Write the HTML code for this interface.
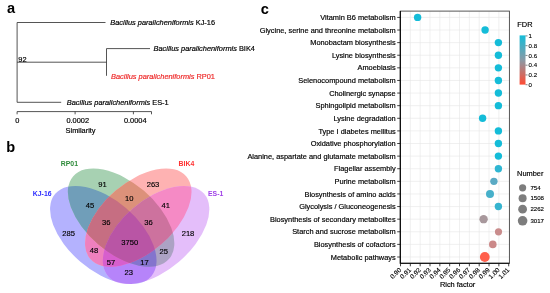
<!DOCTYPE html>
<html><head><meta charset="utf-8"><title>Figure</title>
<style>
html,body{margin:0;padding:0;background:#fff;}
body{width:550px;height:293px;overflow:hidden;}
svg{display:block;font-family:"Liberation Sans",Arial,Helvetica,sans-serif;}
.t{font-size:7.4px;fill:#000;stroke:#000;stroke-width:0.18px;}
.s{font-size:6.5px;fill:#000;stroke:#000;stroke-width:0.12px;}
.b{font-size:14.6px;font-weight:bold;fill:#000;}
.s2{font-size:6.1px;fill:#000;stroke:#000;stroke-width:0.12px;}
.n{font-size:7.6px;fill:#000;text-anchor:middle;stroke:#000;stroke-width:0.15px;}
.l{font-size:6.9px;font-weight:bold;}
.tr{stroke:#2a2a2a;stroke-width:0.8;fill:none;}
.g{stroke:#e6e6e6;stroke-width:0.6;fill:none;}
</style></head><body>
<svg width="550" height="293" viewBox="0 0 550 293">
<rect x="0" y="0" width="550" height="293" fill="#fff"/>
<g id="panel-a">
<text class="b" x="7" y="13.4">a</text>
<path class="tr" d="M17.1 22.5V102.3M17.1 22.5H105.5M17.1 62.2H106.5M106.5 48.6V75.8M106.5 48.6H150M17.1 102.3H61.2"/>
<path class="tr" d="M17.1 114.3V111.6H151.5V114.3M75.1 111.6V114.3M133.4 111.6V114.3"/>
<text class="t" x="110.3" y="25.1"><tspan font-style="italic">Bacillus paralicheniformis</tspan> KJ-16</text>
<text class="t" x="153.5" y="51.2"><tspan font-style="italic">Bacillus paralicheniformis</tspan> BIK4</text>
<text class="t" x="111" y="78.6" style="fill:#ee2a2a;stroke:#ee2a2a"><tspan font-style="italic">Bacillus paralicheniformis</tspan> RP01</text>
<text class="t" x="66.8" y="104.8"><tspan font-style="italic">Bacillus paralicheniformis</tspan> ES-1</text>
<text class="t" x="18.3" y="62">92</text>
<text class="t" x="17.4" y="123" text-anchor="middle">0</text>
<text class="t" x="77.7" y="123" text-anchor="middle">0.0002</text>
<text class="t" x="135.2" y="123" text-anchor="middle">0.0004</text>
<text class="t" x="80.6" y="133" text-anchor="middle">Similarity</text>
</g>
<g id="panel-b">
<text class="b" x="6.2" y="152">b</text>
<defs>
<clipPath id="cB"><ellipse rx="63.3" ry="35.2" transform="translate(103.3 235.0) rotate(40.6)"/></clipPath>
<clipPath id="cG"><ellipse rx="63.3" ry="35.2" transform="translate(121.1 217.6) rotate(40.6)"/></clipPath>
<clipPath id="cR"><ellipse rx="63.3" ry="35.2" transform="translate(138.3 217.6) rotate(-40.6)"/></clipPath>
<clipPath id="cP"><ellipse rx="63.3" ry="35.2" transform="translate(156.1 235.0) rotate(-40.6)"/></clipPath>
</defs>
<ellipse rx="63.3" ry="35.2" transform="translate(103.3 235.0) rotate(40.6)" fill="rgb(180,178,254)"/>
<ellipse rx="63.3" ry="35.2" transform="translate(121.1 217.6) rotate(40.6)" fill="rgb(167,209,178)"/>
<ellipse rx="63.3" ry="35.2" transform="translate(138.3 217.6) rotate(-40.6)" fill="rgb(254,178,178)"/>
<ellipse rx="63.3" ry="35.2" transform="translate(156.1 235.0) rotate(-40.6)" fill="rgb(228,190,250)"/>
<g clip-path="url(#cB)"><ellipse rx="63.3" ry="35.2" transform="translate(121.1 217.6) rotate(40.6)" fill="rgb(112,158,185)"/></g>
<g clip-path="url(#cB)"><ellipse rx="63.3" ry="35.2" transform="translate(138.3 217.6) rotate(-40.6)" fill="rgb(238,128,190)"/></g>
<g clip-path="url(#cB)"><ellipse rx="63.3" ry="35.2" transform="translate(156.1 235.0) rotate(-40.6)" fill="rgb(182,132,250)"/></g>
<g clip-path="url(#cG)"><ellipse rx="63.3" ry="35.2" transform="translate(138.3 217.6) rotate(-40.6)" fill="rgb(220,145,122)"/></g>
<g clip-path="url(#cG)"><ellipse rx="63.3" ry="35.2" transform="translate(156.1 235.0) rotate(-40.6)" fill="rgb(172,162,196)"/></g>
<g clip-path="url(#cR)"><ellipse rx="63.3" ry="35.2" transform="translate(156.1 235.0) rotate(-40.6)" fill="rgb(245,138,197)"/></g>
<g clip-path="url(#cB)"><g clip-path="url(#cG)"><ellipse rx="63.3" ry="35.2" transform="translate(138.3 217.6) rotate(-40.6)" fill="rgb(198,110,130)"/></g></g>
<g clip-path="url(#cB)"><g clip-path="url(#cG)"><ellipse rx="63.3" ry="35.2" transform="translate(156.1 235.0) rotate(-40.6)" fill="rgb(132,116,205)"/></g></g>
<g clip-path="url(#cB)"><g clip-path="url(#cR)"><ellipse rx="63.3" ry="35.2" transform="translate(156.1 235.0) rotate(-40.6)" fill="rgb(215,95,205)"/></g></g>
<g clip-path="url(#cG)"><g clip-path="url(#cR)"><ellipse rx="63.3" ry="35.2" transform="translate(156.1 235.0) rotate(-40.6)" fill="rgb(205,114,158)"/></g></g>
<g clip-path="url(#cB)"><g clip-path="url(#cG)"><g clip-path="url(#cR)"><ellipse rx="63.3" ry="35.2" transform="translate(156.1 235.0) rotate(-40.6)" fill="rgb(185,85,165)"/></g></g></g>
<text class="n" x="102.4" y="186.55">91</text>
<text class="n" x="153" y="186.55">263</text>
<text class="n" x="129.3" y="200.95">10</text>
<text class="n" x="90" y="207.85">45</text>
<text class="n" x="165.8" y="207.85">41</text>
<text class="n" x="106.2" y="225.35">36</text>
<text class="n" x="148.4" y="225.35">36</text>
<text class="n" x="68.6" y="236.05">285</text>
<text class="n" x="188" y="236.05">218</text>
<text class="n" x="129.7" y="244.55">3750</text>
<text class="n" x="94" y="253.15">48</text>
<text class="n" x="163.7" y="253.55">25</text>
<text class="n" x="111" y="264.55">57</text>
<text class="n" x="144.6" y="264.55">17</text>
<text class="n" x="128.7" y="274.75">23</text>
<text class="l" x="60.8" y="166.1" fill="#2e8b3a">RP01</text>
<text class="l" x="32.8" y="195.6" fill="#2b2bff">KJ-16</text>
<text class="l" x="178.6" y="166.1" fill="#ff3030">BIK4</text>
<text class="l" x="208" y="195.6" fill="#a040e8">ES-1</text>
</g>
<g id="panel-c">
<text class="b" x="260.8" y="13.5">c</text>
<path class="g" d="M410.34 11.1V263.3M420.17 11.1V263.3M430.01 11.1V263.3M439.85 11.1V263.3M449.68 11.1V263.3M459.52 11.1V263.3M469.35 11.1V263.3M479.19 11.1V263.3M489.03 11.1V263.3M498.86 11.1V263.3M400.3 17.41H509.4M400.3 30.02H509.4M400.3 42.62H509.4M400.3 55.24H509.4M400.3 67.84H509.4M400.3 80.45H509.4M400.3 93.06H509.4M400.3 105.67H509.4M400.3 118.29H509.4M400.3 130.90H509.4M400.3 143.50H509.4M400.3 156.12H509.4M400.3 168.73H509.4M400.3 181.34H509.4M400.3 193.95H509.4M400.3 206.56H509.4M400.3 219.17H509.4M400.3 231.78H509.4M400.3 244.39H509.4M400.3 257.00H509.4"/>
<rect x="400.3" y="11.1" width="109.1" height="252.2" fill="none" stroke="#444" stroke-width="0.9"/>
<path d="M400.3 11.1V263.3H509.4" fill="none" stroke="#000" stroke-width="1.1"/>
<path d="M397.2 17.41H400.3M397.2 30.02H400.3M397.2 42.62H400.3M397.2 55.24H400.3M397.2 67.84H400.3M397.2 80.45H400.3M397.2 93.06H400.3M397.2 105.67H400.3M397.2 118.29H400.3M397.2 130.90H400.3M397.2 143.50H400.3M397.2 156.12H400.3M397.2 168.73H400.3M397.2 181.34H400.3M397.2 193.95H400.3M397.2 206.56H400.3M397.2 219.17H400.3M397.2 231.78H400.3M397.2 244.39H400.3M397.2 257.00H400.3M400.50 263.3V266.3M410.34 263.3V266.3M420.17 263.3V266.3M430.01 263.3V266.3M439.85 263.3V266.3M449.68 263.3V266.3M459.52 263.3V266.3M469.35 263.3V266.3M479.19 263.3V266.3M489.03 263.3V266.3M498.86 263.3V266.3M508.70 263.3V266.3" fill="none" stroke="#111" stroke-width="0.8"/>
<text class="t" x="395.7" y="20.01" text-anchor="end">Vitamin B6 metabolism</text>
<text class="t" x="395.7" y="32.62" text-anchor="end">Glycine, serine and threonine metabolism</text>
<text class="t" x="395.7" y="45.23" text-anchor="end">Monobactam biosynthesis</text>
<text class="t" x="395.7" y="57.84" text-anchor="end">Lysine biosynthesis</text>
<text class="t" x="395.7" y="70.44" text-anchor="end">Amoebiasis</text>
<text class="t" x="395.7" y="83.05" text-anchor="end">Selenocompound metabolism</text>
<text class="t" x="395.7" y="95.66" text-anchor="end">Cholinergic synapse</text>
<text class="t" x="395.7" y="108.27" text-anchor="end">Sphingolipid metabolism</text>
<text class="t" x="395.7" y="120.89" text-anchor="end">Lysine degradation</text>
<text class="t" x="395.7" y="133.50" text-anchor="end">Type I diabetes mellitus</text>
<text class="t" x="395.7" y="146.10" text-anchor="end">Oxidative phosphorylation</text>
<text class="t" x="395.7" y="158.72" text-anchor="end">Alanine, aspartate and glutamate metabolism</text>
<text class="t" x="395.7" y="171.33" text-anchor="end">Flagellar assembly</text>
<text class="t" x="395.7" y="183.94" text-anchor="end">Purine metabolism</text>
<text class="t" x="395.7" y="196.55" text-anchor="end">Biosynthesis of amino acids</text>
<text class="t" x="395.7" y="209.16" text-anchor="end">Glycolysis / Gluconeogenesis</text>
<text class="t" x="395.7" y="221.77" text-anchor="end">Biosynthesis of secondary metabolites</text>
<text class="t" x="395.7" y="234.38" text-anchor="end">Starch and sucrose metabolism</text>
<text class="t" x="395.7" y="246.99" text-anchor="end">Biosynthesis of cofactors</text>
<text class="t" x="395.7" y="259.60" text-anchor="end">Metabolic pathways</text>
<circle cx="417.6" cy="17.41" r="3.7" fill="#14bcd8"/>
<circle cx="485.1" cy="30.02" r="3.7" fill="#14bcd8"/>
<circle cx="498.4" cy="42.62" r="3.7" fill="#14bcd8"/>
<circle cx="498.4" cy="55.24" r="3.7" fill="#14bcd8"/>
<circle cx="498.4" cy="67.84" r="3.7" fill="#14bcd8"/>
<circle cx="498.4" cy="80.45" r="3.7" fill="#14bcd8"/>
<circle cx="498.4" cy="93.06" r="3.7" fill="#14bcd8"/>
<circle cx="498.4" cy="105.67" r="3.7" fill="#14bcd8"/>
<circle cx="482.6" cy="118.29" r="3.7" fill="#14bcd8"/>
<circle cx="498.4" cy="130.90" r="3.7" fill="#14bcd8"/>
<circle cx="498.4" cy="143.50" r="3.7" fill="#14bcd8"/>
<circle cx="498.4" cy="156.12" r="3.7" fill="#14bcd8"/>
<circle cx="498.4" cy="168.73" r="3.7" fill="#2fb6d2"/>
<circle cx="493.9" cy="181.34" r="3.7" fill="#5aaac4"/>
<circle cx="490.0" cy="193.95" r="4.0" fill="#47b0ca"/>
<circle cx="498.4" cy="206.56" r="3.7" fill="#36b4cf"/>
<circle cx="483.6" cy="219.17" r="4.2" fill="#a8989c"/>
<circle cx="498.5" cy="231.78" r="3.6" fill="#c98c8c"/>
<circle cx="492.8" cy="244.39" r="3.8" fill="#cb8888"/>
<circle cx="484.8" cy="257.00" r="4.9" fill="#ff5f4b"/>
<text class="s" text-anchor="end" transform="translate(401.70 270.40) rotate(-45)">0.90</text>
<text class="s" text-anchor="end" transform="translate(411.54 270.40) rotate(-45)">0.91</text>
<text class="s" text-anchor="end" transform="translate(421.37 270.40) rotate(-45)">0.92</text>
<text class="s" text-anchor="end" transform="translate(431.21 270.40) rotate(-45)">0.93</text>
<text class="s" text-anchor="end" transform="translate(441.05 270.40) rotate(-45)">0.94</text>
<text class="s" text-anchor="end" transform="translate(450.88 270.40) rotate(-45)">0.95</text>
<text class="s" text-anchor="end" transform="translate(460.72 270.40) rotate(-45)">0.96</text>
<text class="s" text-anchor="end" transform="translate(470.55 270.40) rotate(-45)">0.97</text>
<text class="s" text-anchor="end" transform="translate(480.39 270.40) rotate(-45)">0.98</text>
<text class="s" text-anchor="end" transform="translate(490.23 270.40) rotate(-45)">0.99</text>
<text class="s" text-anchor="end" transform="translate(500.06 270.40) rotate(-45)">1.00</text>
<text class="s" text-anchor="end" transform="translate(509.90 270.40) rotate(-45)">1.01</text>
<text class="t" x="457.6" y="287.1" text-anchor="middle">Rich factor</text>
<defs><linearGradient id="fdr" x1="0" y1="0" x2="0" y2="1">
<stop offset="0" stop-color="#14bcd8"/><stop offset="0.5" stop-color="#8a9aa6"/><stop offset="1" stop-color="#ff4b33"/></linearGradient></defs>
<text class="t" x="517.3" y="27.3">FDR</text>
<rect x="519.6" y="35.4" width="5.9" height="49.2" fill="url(#fdr)"/>
<text class="s2" x="528.6" y="38.05">1</text>
<text class="s2" x="528.6" y="47.81">0.8</text>
<text class="s2" x="528.6" y="57.57">0.6</text>
<text class="s2" x="528.6" y="67.33">0.4</text>
<text class="s2" x="528.6" y="77.09">0.2</text>
<text class="s2" x="528.6" y="86.85">0</text>
<path d="M525.5 35.90h2M525.5 45.66h2M525.5 55.42h2M525.5 65.18h2M525.5 74.94h2M525.5 84.70h2" fill="none" stroke="#333" stroke-width="0.6"/>
<text class="t" x="517.1" y="176.4">Number</text>
<circle cx="522.6" cy="187.8" r="3.6" fill="#7d7d7d"/>
<text class="s2" x="530.4" y="189.95">754</text>
<circle cx="522.6" cy="198.3" r="4.0" fill="#7d7d7d"/>
<text class="s2" x="530.4" y="200.45">1508</text>
<circle cx="522.6" cy="209.2" r="4.4" fill="#7d7d7d"/>
<text class="s2" x="530.4" y="211.35">2262</text>
<circle cx="522.6" cy="220.8" r="4.8" fill="#7d7d7d"/>
<text class="s2" x="530.4" y="222.95">3017</text>
</g>
</svg>
</body></html>
